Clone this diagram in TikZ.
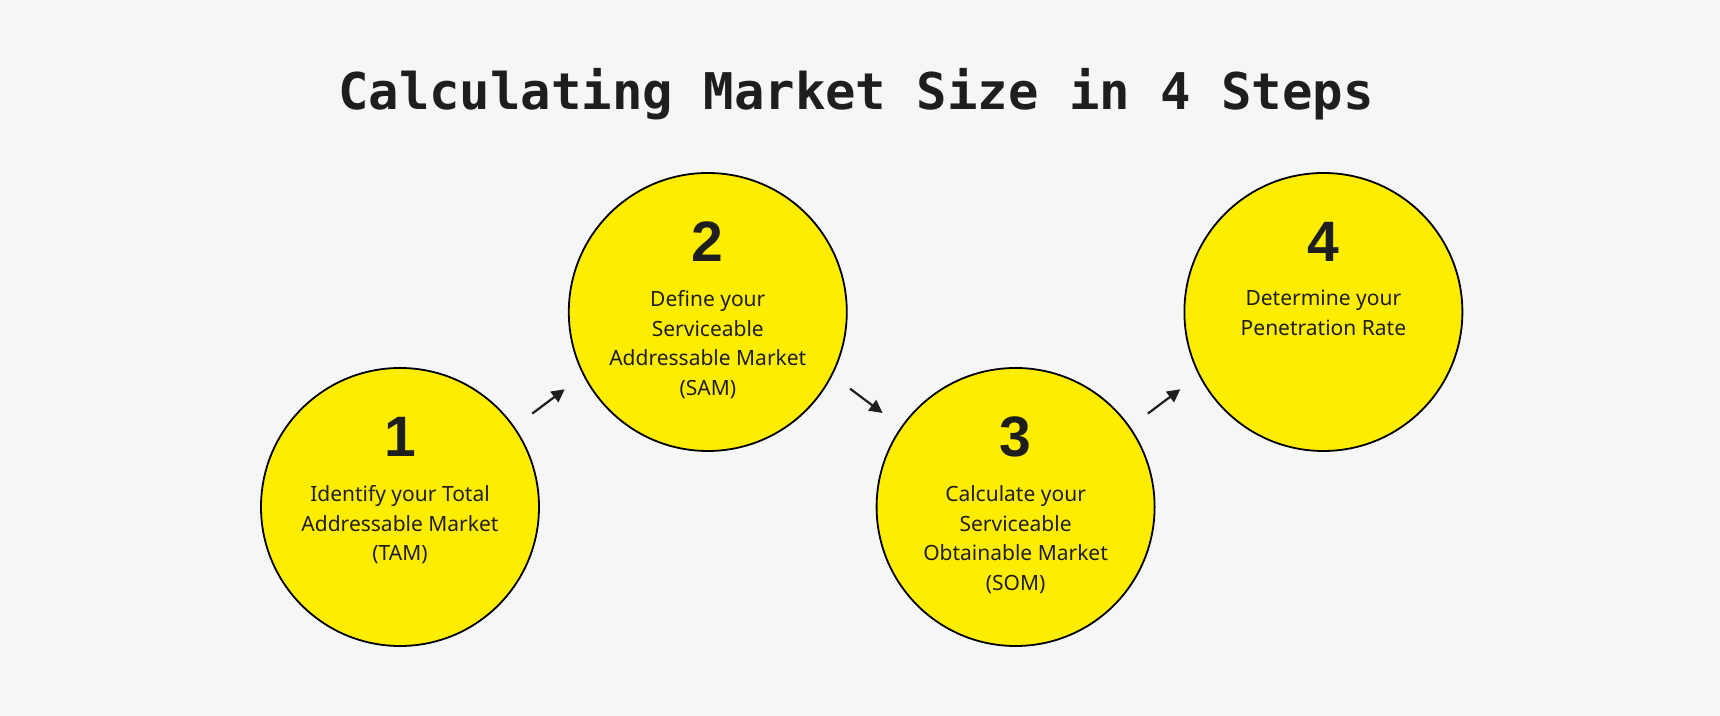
\documentclass[tikz,border=0pt]{standalone}
\usepackage{fontspec}
\setmainfont{Noto Sans}
\newfontfamily\titlefont{DejaVu Sans Mono}
\newfontfamily\numfont{Liberation Sans}
\usetikzlibrary{arrows.meta,positioning}
\definecolor{pagebg}{HTML}{F5F6F8}
\definecolor{stepyellow}{HTML}{FFED00}
\definecolor{inkdark}{HTML}{1E1E1E}

\begin{document}
\begin{tikzpicture}[
    x=0.5pt, y=0.5pt,
    stepcirc/.style={circle, draw=black, line width=0.9pt, fill=stepyellow, minimum size=139pt, inner sep=0pt},
    stepnum/.style={font=\numfont\bfseries\fontsize{28.5}{29}\selectfont, text=inkdark, inner sep=0pt},
    stepdesc/.style={font=\fontsize{10.5}{14.85}\selectfont, text=inkdark, align=center, inner sep=0pt, anchor=north},
    arrow/.style={line width=1.1pt, -{Triangle[length=6.5pt,width=6.5pt]}, draw=inkdark, fill=inkdark, shorten <=11pt, shorten >=11.5pt}
]

% Background
\fill[pagebg] (0,0) rectangle (1720,716);

% Title
\node[font=\titlefont\bfseries\fontsize{25.3}{26}\selectfont, text=inkdark, anchor=base] (title) at (856,606) {Calculating Market Size in 4 Steps};

% Step circles
\node[stepcirc] (s1) at (400,209) {};
\node[stepcirc, right=14pt of s1, yshift=97.5pt] (s2) {};
\node[stepcirc, right=14pt of s2, yshift=-97.5pt] (s3) {};
\node[stepcirc, right=14pt of s3, yshift=97.5pt] (s4) {};

% Step numbers
\node[stepnum] (n1) at ([yshift=35pt]s1.center) {1};
\node[stepnum] (n2) at ([yshift=35pt]s2.center) {2};
\node[stepnum] (n3) at ([yshift=35pt]s3.center) {3};
\node[stepnum] (n4) at ([yshift=35pt]s4.center) {4};

% Step texts
\node[stepdesc] (d1) at ([yshift=11pt]s1.center) {Identify your Total\\Addressable Market\\(TAM)};
\node[stepdesc] (d2) at ([yshift=11pt]s2.center) {Define your\\Serviceable\\Addressable Market\\(SAM)};
\node[stepdesc] (d3) at ([yshift=11pt]s3.center) {Calculate your\\Serviceable\\Obtainable Market\\(SOM)};
\node[stepdesc] (d4) at ([yshift=11pt]s4.center) {Determine your\\Penetration Rate};

% Arrows between steps
\draw[arrow] (s1.35) -- (s2.207);
\draw[arrow] (s2.-27) -- (s3.145);
\draw[arrow] (s3.35) -- (s4.207);

\end{tikzpicture}
\end{document}
